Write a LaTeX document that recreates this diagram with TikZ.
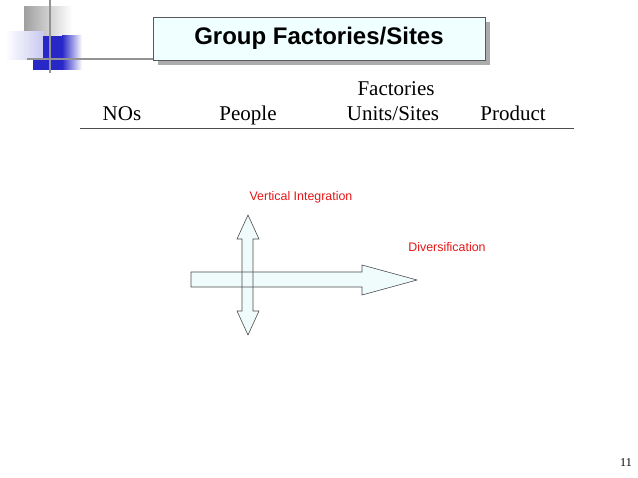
\documentclass[tikz,border=0pt]{standalone}
\usepackage{fontspec}
\setmainfont{Liberation Serif}
\setsansfont{Liberation Sans}
\usetikzlibrary{arrows.meta,positioning,calc}

\definecolor{boxfill}{RGB}{240,255,255}
\definecolor{arrowfill}{RGB}{240,252,252}
\definecolor{deco blue}{RGB}{40,40,200}
\definecolor{deco lav}{RGB}{200,200,240}
\definecolor{label red}{RGB}{230,20,20}

\tikzset{
  titlebox/.style={draw=gray!70!black, fill=boxfill, minimum width=332pt, minimum height=43pt,
    font=\sffamily\bfseries\fontsize{24}{26}\selectfont},
  headtext/.style={font=\fontsize{21}{23}\selectfont, inner sep=0pt, anchor=base},
  redlabel/.style={text=label red, font=\sffamily\fontsize{12.4}{14}\selectfont, inner sep=0pt},
  blockarrow/.style={draw=gray!60!black, line width=0.6pt, line join=miter},
}

\begin{document}
\begin{tikzpicture}[x=1pt, y=-1pt]
  \useasboundingbox (0,0) rectangle (638,478);

  % Corner decoration
  \shade[left color=gray!75, right color=white] (24,7) rectangle (72,36);
  \shade[left color=white, right color=deco lav] (5,32) rectangle (44,60);
  \fill[deco blue] (43,36) rectangle (62,60);
  \fill[deco blue] (33,60) rectangle (62,70);
  \shade[left color=deco blue, right color=white] (62,36) rectangle (82,70);
  \draw[gray!85, line width=1.8pt] (50,0) -- (50,73);
  \draw[gray!85, line width=1.8pt] (27,59) -- (155,59);

  % Title box
  \fill[gray!65] (158,22) rectangle (490,65);
  \node[titlebox] (title) at (319,38.5) {Group Factories/Sites};

  % Header row
  \node[headtext] (nos) at (122,121) {NOs};
  \node[headtext] (people) at (248,121) {People};
  \node[headtext] (units) at (393,121) {Units/Sites};
  \node[headtext] (factories) at (396,96) {Factories};
  \node[headtext] (product) at (513,121) {Product};
  \draw[gray!60!black, line width=0.8pt] (80,128) -- (574,128);

  % Block arrows
  \fill[arrowfill] (191,272) -- (362,272) -- (362,265) -- (417,280) -- (362,295) -- (362,287) -- (191,287) -- cycle;
  \fill[arrowfill] (248,215) -- (259,239) -- (253,239) -- (253,311) -- (259,311) -- (248,335)
    -- (237,311) -- (242,311) -- (242,239) -- (237,239) -- cycle;
  \draw[blockarrow] (191,272) -- (362,272) -- (362,265) -- (417,280) -- (362,295) -- (362,287) -- (191,287) -- cycle;
  \draw[blockarrow] (248,215) -- (259,239) -- (253,239) -- (253,311) -- (259,311) -- (248,335)
    -- (237,311) -- (242,311) -- (242,239) -- (237,239) -- cycle;

  % Arrow labels
  \node[redlabel] (vertical) at (301,197) {Vertical Integration};
  \node[redlabel] (diversification) at (447,247) {Diversification};

  % Page number
  \node[font=\fontsize{12}{14}\selectfont, inner sep=0pt] (page) at (626,463) {11};
\end{tikzpicture}
\end{document}
